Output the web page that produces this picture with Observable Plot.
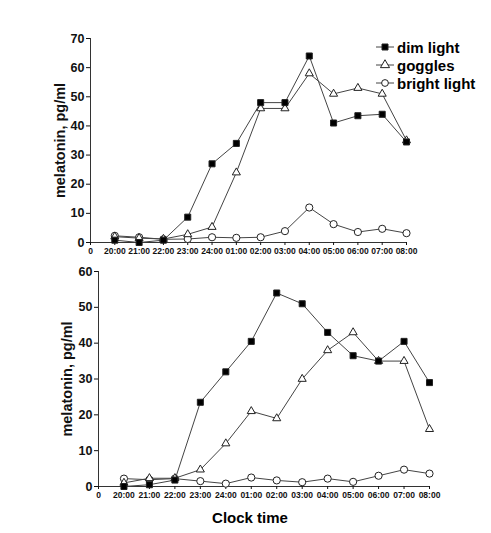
<!DOCTYPE html>
<html>
<head>
<meta charset="utf-8">
<script src="https://cdn.jsdelivr.net/npm/d3@7"></script>
<script src="https://cdn.jsdelivr.net/npm/@observablehq/plot@0.6"></script>
<style>
  body { margin: 0; background: white; font-family: "Liberation Sans", Arial, sans-serif; }
  #page { position: relative; width: 491px; height: 533px; }
  #title { position: absolute; left: 8px; top: 9px; font: bold 13px "Open Sans", sans-serif; }
  #top { position: absolute; left: 0; top: 0; }
  #bottom { position: absolute; left: 0; top: 255px; }
  #legend { position: absolute; left: 376px; top: 38px; font: bold 15px "Liberation Sans", Arial, sans-serif; }
  #legend div { display: flex; align-items: center; height: 18px; }
  #legend svg { margin-right: 3px; }
  #xlabel { position: absolute; left: 0; width: 500px; top: 509px; text-align: center; font: bold 15px "Liberation Sans", Arial, sans-serif; }
</style>
</head>
<body>
<div id="page">
  <div id="title">Fig. 2.</div>
  <div id="top"></div>
  <div id="bottom"></div>
  <div id="legend"></div>
  <div id="xlabel">Clock time</div>
</div>
<script>
// clock times, index 1..13 on the x axis (0 is the bare origin tick)
const times = ["20:00", "21:00", "22:00", "23:00", "24:00", "01:00", "02:00", "03:00", "04:00", "05:00", "06:00", "07:00", "08:00"];
const xTickLabels = ["0", ...times];
const seriesNames = ["dim light", "goggles", "bright light"];

// upper panel
const topDim = [0.8, 0, 0.8, 8.7, 27, 34, 48, 48, 64, 41, 43.5, 44, 34.5];
const topGoggles = [2, 1.5, 1.2, 2.8, 5.3, 24, 46, 46, 58, 51, 53, 51, 35];
const topBright = [2.3, 1.8, 1.1, 1.2, 1.8, 1.6, 1.8, 3.9, 12, 6.3, 3.6, 4.7, 3.2];

// lower panel
const botDim = [0, 0.5, 1.8, 23.5, 32, 40.5, 54, 51, 43, 36.5, 35, 40.5, 29];
const botGoggles = [1, 2.3, 2.3, 4.7, 12, 21, 19, 30, 38, 43, 35, 35, 16];
const botBright = [2.2, 1.9, 2.2, 1.5, 0.8, 2.5, 1.7, 1.2, 2.2, 1.3, 3.0, 4.7, 3.6];

function rows(dim, gog, bri) {
  const out = [];
  [dim, gog, bri].forEach((vals, s) => {
    vals.forEach((v, i) => out.push({series: seriesNames[s], x: i + 1, time: times[i], y: v}));
  });
  return out;
}

const styleBySeries = {
  "dim light": {symbol: "square", fill: "black", r: 3.4},
  "goggles": {symbol: "triangle", fill: "white", r: 3},
  "bright light": {symbol: "circle", fill: "white", r: 3.6}
};

function panel(data, opts) {
  const marks = [
    Plot.ruleY([0], {stroke: "#333"}),
    Plot.axisX({
      ticks: d3.range(0, 14),
      tickFormat: (d) => String(xTickLabels[d]),
      tickSize: 3,
      tickPadding: 2,
      fontSize: 8.5,
      fontWeight: "bold",
      label: null
    }),
    Plot.axisY({
      ticks: d3.range(0, opts.ymax + 1, 10),
      tickSize: 4,
      tickPadding: 2,
      fontSize: 12.5,
      fontWeight: "bold",
      label: null
    }),
    // separate axis just for the big rotated title
    Plot.axisY({
      ticks: [],
      fontSize: 14.5,
      fontWeight: "bold",
      label: "melatonin, pg/ml",
      labelAnchor: "center",
      labelArrow: "none",
      labelOffset: opts.labelOffset
    }),
    Plot.ruleX([0], {stroke: "#333"})
  ];
  // lines first, then markers on top
  for (const s of seriesNames.slice().reverse()) {
    marks.push(Plot.line(data.filter((d) => d.series === s), {x: "x", y: "y", stroke: "#444", strokeWidth: 1}));
  }
  for (const s of seriesNames.slice().reverse()) {
    const st = styleBySeries[s];
    marks.push(Plot.dot(data.filter((d) => d.series === s), {
      x: "x", y: "y", symbol: st.symbol, r: st.r, fill: st.fill, stroke: "#222", strokeWidth: 1
    }));
  }
  return Plot.plot({
    width: 491,
    height: opts.height,
    marginLeft: opts.marginLeft,
    marginRight: opts.marginRight,
    marginTop: opts.marginTop,
    marginBottom: opts.marginBottom,
    x: {domain: [0, 13], axis: null},
    y: {domain: [0, opts.ymax], axis: null},
    style: {fontFamily: "'Liberation Sans', Arial, sans-serif", color: "#111", background: "white", overflow: "visible"},
    marks
  });
}

const topChart = panel(rows(topDim, topGoggles, topBright), {
  height: 260, marginLeft: 90, marginRight: 85, marginTop: 38, marginBottom: 18, ymax: 70, labelOffset: 36
});
const botChart = panel(rows(botDim, botGoggles, botBright), {
  height: 278, marginLeft: 98, marginRight: 62, marginTop: 16, marginBottom: 47, ymax: 60, labelOffset: 37
});
d3.select("#top").append(() => topChart);
d3.select("#bottom").append(() => botChart);

// legend
const legend = d3.select("#legend");
for (const s of seriesNames) {
  const st = styleBySeries[s];
  const row = legend.append("div");
  const svg = row.append("svg").attr("width", 18).attr("height", 12);
  svg.append("line").attr("x1", 0).attr("x2", 18).attr("y1", 6).attr("y2", 6).attr("stroke", "#444");
  const sym = st.symbol === "square" ? d3.symbolSquare : st.symbol === "triangle" ? d3.symbolTriangle : d3.symbolCircle;
  svg.append("path")
    .attr("transform", "translate(9,6)")
    .attr("d", d3.symbol(sym, 36)())
    .attr("fill", st.fill).attr("stroke", "#222");
  row.append("span").text(s);
}
</script>
</body>
</html>
